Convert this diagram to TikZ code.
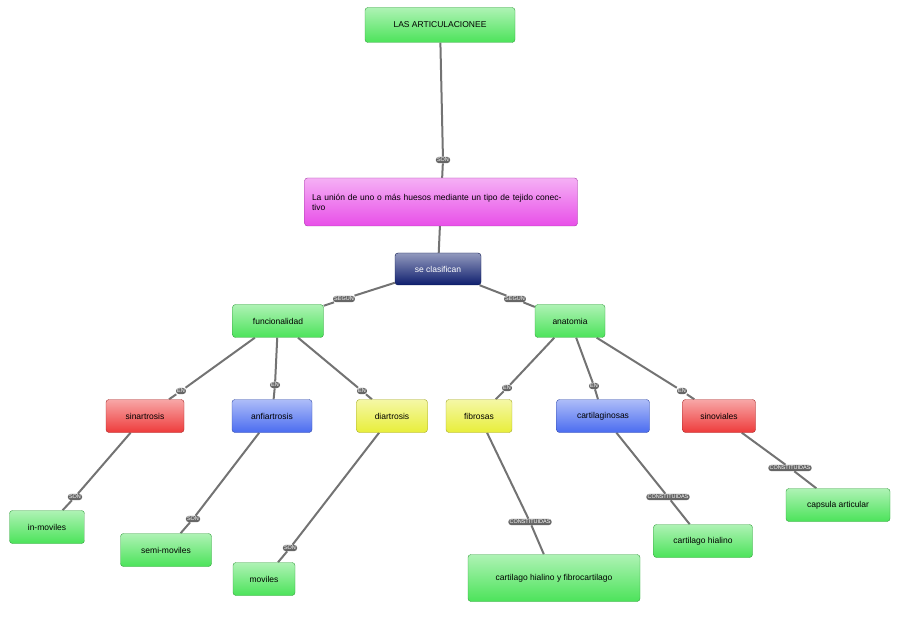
\documentclass[tikz,border=0pt]{standalone}
\usepackage{fontspec}
\setmainfont{Liberation Sans}
\usetikzlibrary{positioning,backgrounds}
\definecolor{cgreen}{HTML}{4CE35A}
\definecolor{cpink}{HTML}{E84FE8}
\definecolor{cnavy}{HTML}{0E1E6E}
\definecolor{cred}{HTML}{EE3B3B}
\definecolor{cblue}{HTML}{4A6CF0}
\definecolor{cyell}{HTML}{E8EE3A}
\tikzset{%
  concept/.style={
    rounded corners=3pt,
    draw=#1!70!black,
    top color=#1!45!white,
    bottom color=#1,
    font=\fontsize{8.5}{10}\selectfont,
    inner xsep=6pt,
    minimum height=33pt
  },
  link/.style={
    rounded corners=3pt,
    fill=black!60,
    text=white,
    font=\fontsize{5.5}{6}\selectfont,
    inner sep=1.2pt
  },
  conn/.style={draw=black!55,line width=2pt},
}
\begin{document}
\begin{tikzpicture}[x=1pt,y=-1pt]
      \useasboundingbox (0,0) rectangle (900,620);

      \node[concept=cgreen,minimum width=150pt,minimum height=35pt] (root) at (440,25) {LAS ARTICULACIONEE};
      \node[concept=cpink,minimum width=273pt,minimum height=48pt,align=left,text width=258pt] (def) at (441,202) {La unión de uno o más huesos mediante un tipo de tejido conectivo};
      \node[concept=cnavy,text=white,minimum width=86pt,minimum height=32pt] (clas) at (438,269) {se clasifican};

      \node[concept=cgreen,minimum width=91pt] (func) at (278,321) {funcionalidad};
      \node[concept=cgreen,minimum width=70pt] (anat) at (570,321) {anatomia};

      \node[concept=cred,minimum width=78pt] (sinar) at (145,416) {sinartrosis};
      \node[concept=cblue,minimum width=80pt] (anfi) at (272,416) {anfiartrosis};
      \node[concept=cyell,minimum width=71pt] (diar) at (392,416) {diartrosis};
      \node[concept=cyell,minimum width=66pt] (fibr) at (479,416) {fibrosas};
      \node[concept=cblue,minimum width=93pt] (cart) at (603,416) {cartilaginosas};
      \node[concept=cred,minimum width=73pt] (sino) at (719,416) {sinoviales};

      \node[concept=cgreen,minimum width=75pt] (inm) at (47,527) {in-moviles};
      \node[concept=cgreen,minimum width=91pt] (semi) at (166,550) {semi-moviles};
      \node[concept=cgreen,minimum width=62pt] (mov) at (264,579) {moviles};
      \node[concept=cgreen,minimum width=172pt,minimum height=47pt] (hyf) at (554,578) {cartilago hialino y fibrocartilago};
      \node[concept=cgreen,minimum width=99pt] (hial) at (703,541) {cartilago hialino};
      \node[concept=cgreen,minimum width=104pt] (caps) at (838,505) {capsula articular};

      % linking words
      \node[link] (l0) at (443,160) {SON};
      \node[link] (l1) at (344,299) {SEGUN};
      \node[link] (l2) at (515,299) {SEGUN};
      \node[link] (l3) at (181,391) {EN};
      \node[link] (l4) at (275,385) {EN};
      \node[link] (l5) at (362,391) {EN};
      \node[link] (l6) at (507,388) {EN};
      \node[link] (l7) at (594,386) {EN};
      \node[link] (l8) at (682,391) {EN};
      \node[link] (l9) at (75,497) {SON};
      \node[link] (l10) at (193,519) {SON};
      \node[link] (l11) at (290,548) {SON};
      \node[link] (l12) at (530,522) {CONSTITUIDAS};
      \node[link] (l13) at (668,497) {CONSTITUIDAS};
      \node[link] (l14) at (790,468) {CONSTITUIDAS};

      \begin{scope}[on background layer]
      \draw[conn] (root) -- (l0) -- (def);
      \draw[conn] (def) -- (clas);
      \draw[conn] (clas) -- (l1) -- (func);
      \draw[conn] (clas) -- (l2) -- (anat);
      \draw[conn] (func) -- (l3) -- (sinar);
      \draw[conn] (func) -- (l4) -- (anfi);
      \draw[conn] (func) -- (l5) -- (diar);
      \draw[conn] (anat) -- (l6) -- (fibr);
      \draw[conn] (anat) -- (l7) -- (cart);
      \draw[conn] (anat) -- (l8) -- (sino);
      \draw[conn] (sinar) -- (l9) -- (inm);
      \draw[conn] (anfi) -- (l10) -- (semi);
      \draw[conn] (diar) -- (l11) -- (mov);
      \draw[conn] (fibr) -- (l12) -- (hyf);
      \draw[conn] (cart) -- (l13) -- (hial);
      \draw[conn] (sino) -- (l14) -- (caps);
      \end{scope}
\end{tikzpicture}
\end{document}
